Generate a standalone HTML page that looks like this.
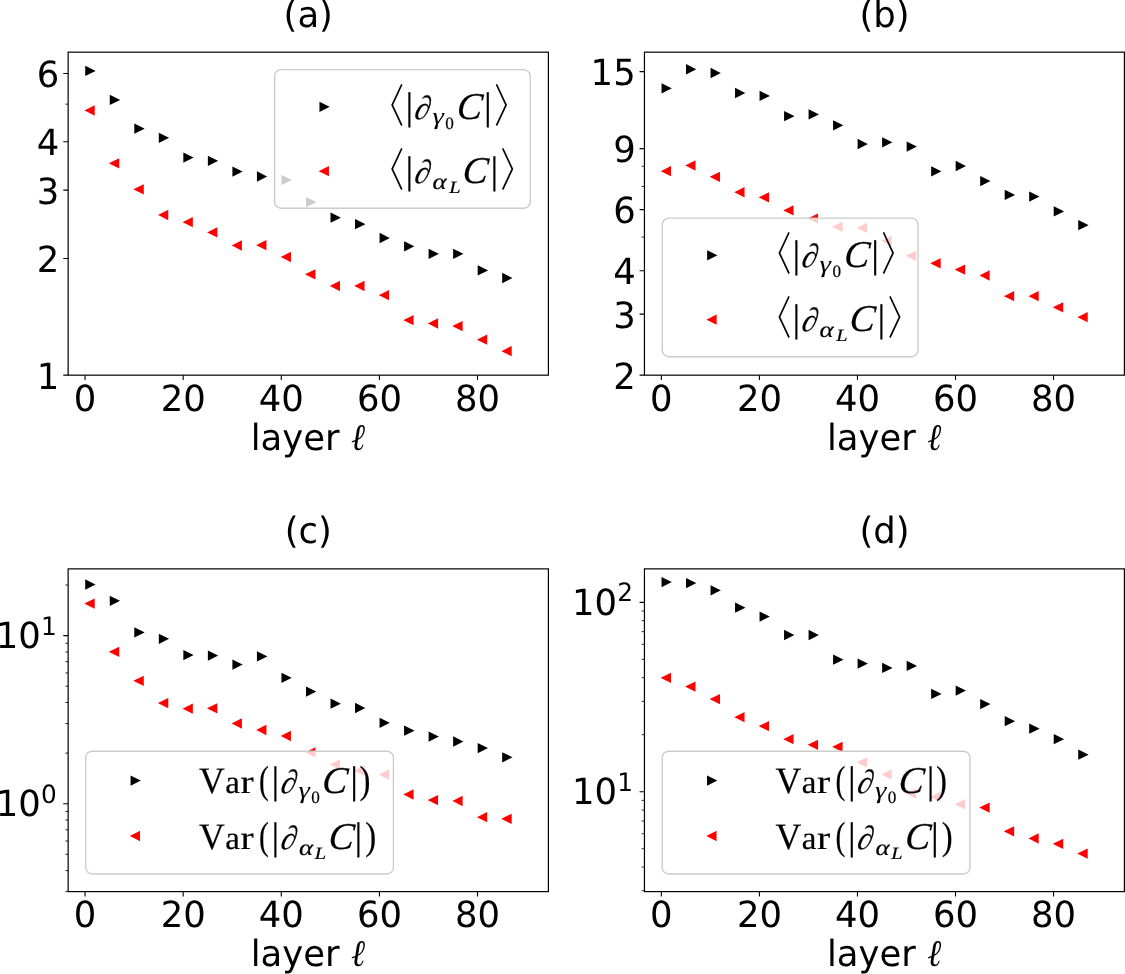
<!DOCTYPE html><html><head><meta charset="utf-8"><title>figure</title><style>html,body{margin:0;padding:0;background:#fff;overflow:hidden}svg{display:block}</style></head><body>
<svg width="1125" height="974" viewBox="0 0 1125 974" text-rendering="geometricPrecision">
<rect width="1125" height="974" fill="#fff"/>
<g fill="#000" stroke="#000" stroke-width="1.39" stroke-linejoin="miter">
<polygon points="94.02,70.95 85.92,66.9 85.92,75"/>
<polygon points="118.55,99.95 110.45,95.9 110.45,104"/>
<polygon points="143.08,128.65 134.98,124.6 134.98,132.7"/>
<polygon points="167.6,137.85 159.5,133.8 159.5,141.9"/>
<polygon points="192.13,157.55 184.03,153.5 184.03,161.6"/>
<polygon points="216.66,160.85 208.56,156.8 208.56,164.9"/>
<polygon points="241.19,171.6 233.09,167.55 233.09,175.65"/>
<polygon points="265.72,176.5 257.62,172.45 257.62,180.55"/>
<polygon points="290.24,180.1 282.14,176.05 282.14,184.15"/>
<polygon points="314.77,202.2 306.67,198.15 306.67,206.25"/>
<polygon points="339.3,217.7 331.2,213.65 331.2,221.75"/>
<polygon points="363.83,224.2 355.73,220.15 355.73,228.25"/>
<polygon points="388.36,238 380.26,233.95 380.26,242.05"/>
<polygon points="412.89,246.3 404.79,242.25 404.79,250.35"/>
<polygon points="437.41,253.8 429.31,249.75 429.31,257.85"/>
<polygon points="461.94,253.8 453.84,249.75 453.84,257.85"/>
<polygon points="486.47,270.4 478.37,266.35 478.37,274.45"/>
<polygon points="511,278 502.9,273.95 502.9,282.05"/>
</g>
<g fill="#f00" stroke="#f00" stroke-width="1.39" stroke-linejoin="miter">
<polygon points="85.92,110.5 94.02,114.55 94.02,106.45"/>
<polygon points="110.45,163.35 118.55,167.4 118.55,159.3"/>
<polygon points="134.98,189.35 143.08,193.4 143.08,185.3"/>
<polygon points="159.5,215 167.6,219.05 167.6,210.95"/>
<polygon points="184.03,222.2 192.13,226.25 192.13,218.15"/>
<polygon points="208.56,232.4 216.66,236.45 216.66,228.35"/>
<polygon points="233.09,245.5 241.19,249.55 241.19,241.45"/>
<polygon points="257.62,245.2 265.72,249.25 265.72,241.15"/>
<polygon points="282.14,257 290.24,261.05 290.24,252.95"/>
<polygon points="306.67,274.3 314.77,278.35 314.77,270.25"/>
<polygon points="331.2,286 339.3,290.05 339.3,281.95"/>
<polygon points="355.73,286 363.83,290.05 363.83,281.95"/>
<polygon points="380.26,295.2 388.36,299.25 388.36,291.15"/>
<polygon points="404.79,320.2 412.89,324.25 412.89,316.15"/>
<polygon points="429.31,323.5 437.41,327.55 437.41,319.45"/>
<polygon points="453.84,326.1 461.94,330.15 461.94,322.05"/>
<polygon points="478.37,339.7 486.47,343.75 486.47,335.65"/>
<polygon points="502.9,351.2 511,355.25 511,347.15"/>
</g>
<rect x="68.14" y="52.17" width="480.26" height="323" fill="none" stroke="#000" stroke-width="1.2" stroke-linejoin="miter"/>
<path d="M85.06 375.17v4.86M183.18 375.17v4.86M281.29 375.17v4.86M379.4 375.17v4.86M477.51 375.17v4.86M68.14 375.17h-4.86M68.14 258.45h-4.86M68.14 190.17h-4.86M68.14 141.72h-4.86M68.14 73.44h-4.86" stroke="#000" stroke-width="1.11" fill="none"/>
<path d="M68.14 104.15h-2.78" stroke="#000" stroke-width="0.83" fill="none"/>
<text transform="translate(85.06 410.6) scale(0.98 1)" font-family="'DejaVu Sans', sans-serif" font-size="36.11" text-anchor="middle">0</text>
<text transform="translate(183.18 410.6) scale(0.98 1)" font-family="'DejaVu Sans', sans-serif" font-size="36.11" text-anchor="middle">20</text>
<text transform="translate(281.29 410.6) scale(0.98 1)" font-family="'DejaVu Sans', sans-serif" font-size="36.11" text-anchor="middle">40</text>
<text transform="translate(379.4 410.6) scale(0.98 1)" font-family="'DejaVu Sans', sans-serif" font-size="36.11" text-anchor="middle">60</text>
<text transform="translate(477.51 410.6) scale(0.98 1)" font-family="'DejaVu Sans', sans-serif" font-size="36.11" text-anchor="middle">80</text>
<text transform="translate(59.34 388.67) scale(0.98 1)" font-family="'DejaVu Sans', sans-serif" font-size="36.11" text-anchor="end">1</text>
<text transform="translate(59.34 271.95) scale(0.98 1)" font-family="'DejaVu Sans', sans-serif" font-size="36.11" text-anchor="end">2</text>
<text transform="translate(59.34 203.67) scale(0.98 1)" font-family="'DejaVu Sans', sans-serif" font-size="36.11" text-anchor="end">3</text>
<text transform="translate(59.34 155.22) scale(0.98 1)" font-family="'DejaVu Sans', sans-serif" font-size="36.11" text-anchor="end">4</text>
<text transform="translate(59.34 86.94) scale(0.98 1)" font-family="'DejaVu Sans', sans-serif" font-size="36.11" text-anchor="end">6</text>
<text transform="translate(308.27 26.95) scale(0.98 1)" font-family="'DejaVu Sans', sans-serif" font-size="36.11" text-anchor="middle">(a)</text>
<text transform="translate(250.77 449.8) scale(0.98 1)" font-family="'DejaVu Sans', sans-serif" font-size="36.11">layer</text>
<text transform="translate(350.98 450) scale(0.9 1)" font-family="'Liberation Serif', serif" font-style="italic" font-size="37.5">ℓ</text>
<g fill="#000" stroke="#000" stroke-width="1.39" stroke-linejoin="miter">
<polygon points="670.32,88.3 662.22,84.25 662.22,92.35"/>
<polygon points="694.83,69.25 686.73,65.2 686.73,73.3"/>
<polygon points="719.34,73 711.24,68.95 711.24,77.05"/>
<polygon points="743.85,93 735.75,88.95 735.75,97.05"/>
<polygon points="768.36,95.9 760.26,91.85 760.26,99.95"/>
<polygon points="792.88,116.2 784.78,112.15 784.78,120.25"/>
<polygon points="817.39,114.4 809.29,110.35 809.29,118.45"/>
<polygon points="841.9,125.3 833.8,121.25 833.8,129.35"/>
<polygon points="866.41,144 858.31,139.95 858.31,148.05"/>
<polygon points="890.93,142.3 882.83,138.25 882.83,146.35"/>
<polygon points="915.44,146.6 907.34,142.55 907.34,150.65"/>
<polygon points="939.95,171.3 931.85,167.25 931.85,175.35"/>
<polygon points="964.46,166 956.36,161.95 956.36,170.05"/>
<polygon points="988.98,181.1 980.88,177.05 980.88,185.15"/>
<polygon points="1013.49,194.9 1005.39,190.85 1005.39,198.95"/>
<polygon points="1038,196.6 1029.9,192.55 1029.9,200.65"/>
<polygon points="1062.51,211.4 1054.41,207.35 1054.41,215.45"/>
<polygon points="1087.02,225.2 1078.92,221.15 1078.92,229.25"/>
</g>
<g fill="#f00" stroke="#f00" stroke-width="1.39" stroke-linejoin="miter">
<polygon points="662.22,171.15 670.32,175.2 670.32,167.1"/>
<polygon points="686.73,165.5 694.83,169.55 694.83,161.45"/>
<polygon points="711.24,176.85 719.34,180.9 719.34,172.8"/>
<polygon points="735.75,192.25 743.85,196.3 743.85,188.2"/>
<polygon points="760.26,197.3 768.36,201.35 768.36,193.25"/>
<polygon points="784.78,210.4 792.88,214.45 792.88,206.35"/>
<polygon points="809.29,218.6 817.39,222.65 817.39,214.55"/>
<polygon points="833.8,226.8 841.9,230.85 841.9,222.75"/>
<polygon points="858.31,227.8 866.41,231.85 866.41,223.75"/>
<polygon points="882.83,241 890.93,245.05 890.93,236.95"/>
<polygon points="907.34,255.8 915.44,259.85 915.44,251.75"/>
<polygon points="931.85,263.3 939.95,267.35 939.95,259.25"/>
<polygon points="956.36,269.6 964.46,273.65 964.46,265.55"/>
<polygon points="980.88,275.5 988.98,279.55 988.98,271.45"/>
<polygon points="1005.39,296.2 1013.49,300.25 1013.49,292.15"/>
<polygon points="1029.9,296.2 1038,300.25 1038,292.15"/>
<polygon points="1054.41,307.3 1062.51,311.35 1062.51,303.25"/>
<polygon points="1078.92,317.2 1087.02,321.25 1087.02,313.15"/>
</g>
<rect x="644.45" y="52.17" width="479.95" height="323" fill="none" stroke="#000" stroke-width="1.2" stroke-linejoin="miter"/>
<path d="M661.36 375.17v4.86M759.41 375.17v4.86M857.46 375.17v4.86M955.51 375.17v4.86M1053.56 375.17v4.86M644.45 375.17h-4.86M644.45 314.09h-4.86M644.45 270.75h-4.86M644.45 209.67h-4.86M644.45 148.59h-4.86M644.45 71.64h-4.86" stroke="#000" stroke-width="1.11" fill="none"/>
<path d="M644.45 237.14h-2.78M644.45 186.45h-2.78M644.45 166.34h-2.78" stroke="#000" stroke-width="0.83" fill="none"/>
<text transform="translate(661.36 410.6) scale(0.98 1)" font-family="'DejaVu Sans', sans-serif" font-size="36.11" text-anchor="middle">0</text>
<text transform="translate(759.41 410.6) scale(0.98 1)" font-family="'DejaVu Sans', sans-serif" font-size="36.11" text-anchor="middle">20</text>
<text transform="translate(857.46 410.6) scale(0.98 1)" font-family="'DejaVu Sans', sans-serif" font-size="36.11" text-anchor="middle">40</text>
<text transform="translate(955.51 410.6) scale(0.98 1)" font-family="'DejaVu Sans', sans-serif" font-size="36.11" text-anchor="middle">60</text>
<text transform="translate(1053.56 410.6) scale(0.98 1)" font-family="'DejaVu Sans', sans-serif" font-size="36.11" text-anchor="middle">80</text>
<text transform="translate(635.65 388.67) scale(0.98 1)" font-family="'DejaVu Sans', sans-serif" font-size="36.11" text-anchor="end">2</text>
<text transform="translate(635.65 327.59) scale(0.98 1)" font-family="'DejaVu Sans', sans-serif" font-size="36.11" text-anchor="end">3</text>
<text transform="translate(635.65 284.25) scale(0.98 1)" font-family="'DejaVu Sans', sans-serif" font-size="36.11" text-anchor="end">4</text>
<text transform="translate(635.65 223.17) scale(0.98 1)" font-family="'DejaVu Sans', sans-serif" font-size="36.11" text-anchor="end">6</text>
<text transform="translate(635.65 162.09) scale(0.98 1)" font-family="'DejaVu Sans', sans-serif" font-size="36.11" text-anchor="end">9</text>
<text transform="translate(635.65 85.14) scale(0.98 1)" font-family="'DejaVu Sans', sans-serif" font-size="36.11" text-anchor="end">15</text>
<text transform="translate(884.43 26.95) scale(0.98 1)" font-family="'DejaVu Sans', sans-serif" font-size="36.11" text-anchor="middle">(b)</text>
<text transform="translate(826.92 449.8) scale(0.98 1)" font-family="'DejaVu Sans', sans-serif" font-size="36.11">layer</text>
<text transform="translate(927.13 450) scale(0.9 1)" font-family="'Liberation Serif', serif" font-style="italic" font-size="37.5">ℓ</text>
<g fill="#000" stroke="#000" stroke-width="1.39" stroke-linejoin="miter">
<polygon points="94.02,584.5 85.92,580.45 85.92,588.55"/>
<polygon points="118.55,600.8 110.45,596.75 110.45,604.85"/>
<polygon points="143.08,632.4 134.98,628.35 134.98,636.45"/>
<polygon points="167.6,638.8 159.5,634.75 159.5,642.85"/>
<polygon points="192.13,655.1 184.03,651.05 184.03,659.15"/>
<polygon points="216.66,655.6 208.56,651.55 208.56,659.65"/>
<polygon points="241.19,664.6 233.09,660.55 233.09,668.65"/>
<polygon points="265.72,656.4 257.62,652.35 257.62,660.45"/>
<polygon points="290.24,677.8 282.14,673.75 282.14,681.85"/>
<polygon points="314.77,691.6 306.67,687.55 306.67,695.65"/>
<polygon points="339.3,703.7 331.2,699.65 331.2,707.75"/>
<polygon points="363.83,708 355.73,703.95 355.73,712.05"/>
<polygon points="388.36,722.8 380.26,718.75 380.26,726.85"/>
<polygon points="412.89,730.7 404.79,726.65 404.79,734.75"/>
<polygon points="437.41,736.6 429.31,732.55 429.31,740.65"/>
<polygon points="461.94,741.5 453.84,737.45 453.84,745.55"/>
<polygon points="486.47,748.1 478.37,744.05 478.37,752.15"/>
<polygon points="511,757.3 502.9,753.25 502.9,761.35"/>
</g>
<g fill="#f00" stroke="#f00" stroke-width="1.39" stroke-linejoin="miter">
<polygon points="85.92,603.6 94.02,607.65 94.02,599.55"/>
<polygon points="110.45,651.8 118.55,655.85 118.55,647.75"/>
<polygon points="134.98,680.8 143.08,684.85 143.08,676.75"/>
<polygon points="159.5,703.05 167.6,707.1 167.6,699"/>
<polygon points="184.03,708.7 192.13,712.75 192.13,704.65"/>
<polygon points="208.56,708.3 216.66,712.35 216.66,704.25"/>
<polygon points="233.09,723.5 241.19,727.55 241.19,719.45"/>
<polygon points="257.62,730 265.72,734.05 265.72,725.95"/>
<polygon points="282.14,736 290.24,740.05 290.24,731.95"/>
<polygon points="306.67,752.4 314.77,756.45 314.77,748.35"/>
<polygon points="331.2,764.6 339.3,768.65 339.3,760.55"/>
<polygon points="355.73,770.5 363.83,774.55 363.83,766.45"/>
<polygon points="380.26,774.7 388.36,778.75 388.36,770.65"/>
<polygon points="404.79,794.5 412.89,798.55 412.89,790.45"/>
<polygon points="429.31,800.1 437.41,804.15 437.41,796.05"/>
<polygon points="453.84,801 461.94,805.05 461.94,796.95"/>
<polygon points="478.37,817.2 486.47,821.25 486.47,813.15"/>
<polygon points="502.9,818.8 511,822.85 511,814.75"/>
</g>
<rect x="68.14" y="568.87" width="480.26" height="322.73" fill="none" stroke="#000" stroke-width="1.2" stroke-linejoin="miter"/>
<path d="M85.06 891.6v4.86M183.18 891.6v4.86M281.29 891.6v4.86M379.4 891.6v4.86M477.51 891.6v4.86M68.14 803.72h-4.86M68.14 635.64h-4.86" stroke="#000" stroke-width="1.11" fill="none"/>
<path d="M68.14 891.6h-2.78M68.14 870.6h-2.78M68.14 854.31h-2.78M68.14 841h-2.78M68.14 829.75h-2.78M68.14 820h-2.78M68.14 811.41h-2.78M68.14 753.12h-2.78M68.14 723.52h-2.78M68.14 702.52h-2.78M68.14 686.23h-2.78M68.14 672.93h-2.78M68.14 661.67h-2.78M68.14 651.93h-2.78M68.14 643.33h-2.78M68.14 585.04h-2.78" stroke="#000" stroke-width="0.83" fill="none"/>
<text transform="translate(85.06 927.03) scale(0.98 1)" font-family="'DejaVu Sans', sans-serif" font-size="36.11" text-anchor="middle">0</text>
<text transform="translate(183.18 927.03) scale(0.98 1)" font-family="'DejaVu Sans', sans-serif" font-size="36.11" text-anchor="middle">20</text>
<text transform="translate(281.29 927.03) scale(0.98 1)" font-family="'DejaVu Sans', sans-serif" font-size="36.11" text-anchor="middle">40</text>
<text transform="translate(379.4 927.03) scale(0.98 1)" font-family="'DejaVu Sans', sans-serif" font-size="36.11" text-anchor="middle">60</text>
<text transform="translate(477.51 927.03) scale(0.98 1)" font-family="'DejaVu Sans', sans-serif" font-size="36.11" text-anchor="middle">80</text>
<text transform="translate(-4.36 816.32) scale(0.98 1)" font-family="'DejaVu Sans', sans-serif" font-size="36.11">10</text>
<text transform="translate(41.04 802.62) scale(0.98 1)" font-family="'DejaVu Sans', sans-serif" font-size="25.28">0</text>
<text transform="translate(-4.36 648.24) scale(0.98 1)" font-family="'DejaVu Sans', sans-serif" font-size="36.11">10</text>
<text transform="translate(41.04 634.54) scale(0.98 1)" font-family="'DejaVu Sans', sans-serif" font-size="25.28">1</text>
<text transform="translate(308.27 543.38) scale(0.98 1)" font-family="'DejaVu Sans', sans-serif" font-size="36.11" text-anchor="middle">(c)</text>
<text transform="translate(250.77 966.23) scale(0.98 1)" font-family="'DejaVu Sans', sans-serif" font-size="36.11">layer</text>
<text transform="translate(350.98 966.43) scale(0.9 1)" font-family="'Liberation Serif', serif" font-style="italic" font-size="37.5">ℓ</text>
<g fill="#000" stroke="#000" stroke-width="1.39" stroke-linejoin="miter">
<polygon points="670.32,582.1 662.22,578.05 662.22,586.15"/>
<polygon points="694.83,583.1 686.73,579.05 686.73,587.15"/>
<polygon points="719.34,590.3 711.24,586.25 711.24,594.35"/>
<polygon points="743.85,607.7 735.75,603.65 735.75,611.75"/>
<polygon points="768.36,616.6 760.26,612.55 760.26,620.65"/>
<polygon points="792.88,635 784.78,630.95 784.78,639.05"/>
<polygon points="817.39,635 809.29,630.95 809.29,639.05"/>
<polygon points="841.9,659.7 833.8,655.65 833.8,663.75"/>
<polygon points="866.41,663.6 858.31,659.55 858.31,667.65"/>
<polygon points="890.93,667.9 882.83,663.85 882.83,671.95"/>
<polygon points="915.44,665.9 907.34,661.85 907.34,669.95"/>
<polygon points="939.95,693.9 931.85,689.85 931.85,697.95"/>
<polygon points="964.46,690.6 956.36,686.55 956.36,694.65"/>
<polygon points="988.98,704.1 980.88,700.05 980.88,708.15"/>
<polygon points="1013.49,721.2 1005.39,717.15 1005.39,725.25"/>
<polygon points="1038,728.7 1029.9,724.65 1029.9,732.75"/>
<polygon points="1062.51,739.2 1054.41,735.15 1054.41,743.25"/>
<polygon points="1087.02,754.7 1078.92,750.65 1078.92,758.75"/>
</g>
<g fill="#f00" stroke="#f00" stroke-width="1.39" stroke-linejoin="miter">
<polygon points="662.22,677.8 670.32,681.85 670.32,673.75"/>
<polygon points="686.73,686.6 694.83,690.65 694.83,682.55"/>
<polygon points="711.24,699.1 719.34,703.15 719.34,695.05"/>
<polygon points="735.75,717.2 743.85,721.25 743.85,713.15"/>
<polygon points="760.26,726.1 768.36,730.15 768.36,722.05"/>
<polygon points="784.78,739.2 792.88,743.25 792.88,735.15"/>
<polygon points="809.29,744.8 817.39,748.85 817.39,740.75"/>
<polygon points="833.8,746.8 841.9,750.85 841.9,742.75"/>
<polygon points="858.31,762.3 866.41,766.35 866.41,758.25"/>
<polygon points="882.83,774.4 890.93,778.45 890.93,770.35"/>
<polygon points="907.34,793.5 915.44,797.55 915.44,789.45"/>
<polygon points="931.85,796.8 939.95,800.85 939.95,792.75"/>
<polygon points="956.36,804.3 964.46,808.35 964.46,800.25"/>
<polygon points="980.88,807.6 988.98,811.65 988.98,803.55"/>
<polygon points="1005.39,831.3 1013.49,835.35 1013.49,827.25"/>
<polygon points="1029.9,838.5 1038,842.55 1038,834.45"/>
<polygon points="1054.41,843.8 1062.51,847.85 1062.51,839.75"/>
<polygon points="1078.92,853.6 1087.02,857.65 1087.02,849.55"/>
</g>
<rect x="644.45" y="568.87" width="479.95" height="322.73" fill="none" stroke="#000" stroke-width="1.2" stroke-linejoin="miter"/>
<path d="M661.36 891.6v4.86M759.41 891.6v4.86M857.46 891.6v4.86M955.51 891.6v4.86M1053.56 891.6v4.86M644.45 791.72h-4.86M644.45 602.33h-4.86" stroke="#000" stroke-width="1.11" fill="none"/>
<path d="M644.45 890.75h-2.78M644.45 867.08h-2.78M644.45 848.73h-2.78M644.45 833.73h-2.78M644.45 821.05h-2.78M644.45 810.07h-2.78M644.45 800.38h-2.78M644.45 734.71h-2.78M644.45 701.36h-2.78M644.45 677.69h-2.78M644.45 659.34h-2.78M644.45 644.35h-2.78M644.45 631.67h-2.78M644.45 620.68h-2.78M644.45 611h-2.78" stroke="#000" stroke-width="0.83" fill="none"/>
<text transform="translate(661.36 927.03) scale(0.98 1)" font-family="'DejaVu Sans', sans-serif" font-size="36.11" text-anchor="middle">0</text>
<text transform="translate(759.41 927.03) scale(0.98 1)" font-family="'DejaVu Sans', sans-serif" font-size="36.11" text-anchor="middle">20</text>
<text transform="translate(857.46 927.03) scale(0.98 1)" font-family="'DejaVu Sans', sans-serif" font-size="36.11" text-anchor="middle">40</text>
<text transform="translate(955.51 927.03) scale(0.98 1)" font-family="'DejaVu Sans', sans-serif" font-size="36.11" text-anchor="middle">60</text>
<text transform="translate(1053.56 927.03) scale(0.98 1)" font-family="'DejaVu Sans', sans-serif" font-size="36.11" text-anchor="middle">80</text>
<text transform="translate(571.95 804.32) scale(0.98 1)" font-family="'DejaVu Sans', sans-serif" font-size="36.11">10</text>
<text transform="translate(617.35 790.62) scale(0.98 1)" font-family="'DejaVu Sans', sans-serif" font-size="25.28">1</text>
<text transform="translate(571.95 614.93) scale(0.98 1)" font-family="'DejaVu Sans', sans-serif" font-size="36.11">10</text>
<text transform="translate(617.35 601.23) scale(0.98 1)" font-family="'DejaVu Sans', sans-serif" font-size="25.28">2</text>
<text transform="translate(884.43 543.38) scale(0.98 1)" font-family="'DejaVu Sans', sans-serif" font-size="36.11" text-anchor="middle">(d)</text>
<text transform="translate(826.92 966.23) scale(0.98 1)" font-family="'DejaVu Sans', sans-serif" font-size="36.11">layer</text>
<text transform="translate(927.13 966.43) scale(0.9 1)" font-family="'Liberation Serif', serif" font-style="italic" font-size="37.5">ℓ</text>
<rect x="274.6" y="69.6" width="255.7" height="138.6" rx="6.5" ry="6.5" fill="#fff" fill-opacity="0.8" stroke="#ccc" stroke-width="1.39"/>
<g fill="#000" stroke="#000" stroke-width="1.39"><polygon points="328.25,106.8 320.15,102.75 320.15,110.85"/></g>
<g fill="#f00" stroke="#f00" stroke-width="1.39"><polygon points="320.15,171.2 328.25,175.25 328.25,167.15"/></g>
<g fill="#000" stroke="#000" stroke-width="0.2">
<text x="361.33" y="121.7" font-family="'WenQuanYi Zen Hei', 'Noto Sans CJK JP', sans-serif" font-size="47.5" stroke-width="0">〈</text>
<text x="405.5" y="118.8" font-family="'Liberation Serif', serif" font-size="38.5">|</text>
<text transform="translate(413.33 118.8) skewX(-13) scale(0.93 1)" font-family="'Liberation Serif', serif" font-style="italic" font-size="33">∂</text>
<text transform="translate(432.48 123.7) scale(1.2 1)" font-family="'Liberation Serif', serif" font-style="italic" font-size="24.1" stroke-width="0">γ</text>
<text x="445.34" y="128.6" font-family="'Liberation Serif', serif" font-size="17.2">0</text>
<text transform="translate(456.07 118.8) skewX(-6) scale(1 1)" font-family="'Liberation Serif', serif" font-style="italic" font-size="37.9">C</text>
<text x="484.1" y="118.8" font-family="'Liberation Serif', serif" font-size="38.5">|</text>
<text x="489.48" y="121.7" font-family="'WenQuanYi Zen Hei', 'Noto Sans CJK JP', sans-serif" font-size="47.5" stroke-width="0">〉</text>
<text x="361.33" y="185.8" font-family="'WenQuanYi Zen Hei', 'Noto Sans CJK JP', sans-serif" font-size="47.5" stroke-width="0">〈</text>
<text x="405.5" y="182.9" font-family="'Liberation Serif', serif" font-size="38.5">|</text>
<text transform="translate(413.33 182.9) skewX(-13) scale(0.93 1)" font-family="'Liberation Serif', serif" font-style="italic" font-size="33">∂</text>
<text transform="translate(432.4 188.6) scale(1.2 1)" font-family="'Liberation Serif', serif" font-style="italic" font-size="22.4">α</text>
<text transform="translate(449.24 192.6) scale(1.19 1)" font-family="'Liberation Serif', serif" font-style="italic" font-size="17.1">L</text>
<text transform="translate(461.77 182.9) skewX(-6) scale(1 1)" font-family="'Liberation Serif', serif" font-style="italic" font-size="37.9">C</text>
<text x="490.4" y="182.9" font-family="'Liberation Serif', serif" font-size="38.5">|</text>
<text x="495.78" y="185.8" font-family="'WenQuanYi Zen Hei', 'Noto Sans CJK JP', sans-serif" font-size="47.5" stroke-width="0">〉</text>
</g>
<rect x="662.3" y="218.1" width="255.7" height="138.6" rx="6.5" ry="6.5" fill="#fff" fill-opacity="0.8" stroke="#ccc" stroke-width="1.39"/>
<g fill="#000" stroke="#000" stroke-width="1.39"><polygon points="715.95,255.3 707.85,251.25 707.85,259.35"/></g>
<g fill="#f00" stroke="#f00" stroke-width="1.39"><polygon points="707.85,319.7 715.95,323.75 715.95,315.65"/></g>
<g fill="#000" stroke="#000" stroke-width="0.2">
<text x="748.43" y="270.2" font-family="'WenQuanYi Zen Hei', 'Noto Sans CJK JP', sans-serif" font-size="47.5" stroke-width="0">〈</text>
<text x="792.6" y="267.3" font-family="'Liberation Serif', serif" font-size="38.5">|</text>
<text transform="translate(800.43 267.3) skewX(-13) scale(0.93 1)" font-family="'Liberation Serif', serif" font-style="italic" font-size="33">∂</text>
<text transform="translate(819.58 272.2) scale(1.2 1)" font-family="'Liberation Serif', serif" font-style="italic" font-size="24.1" stroke-width="0">γ</text>
<text x="832.44" y="277.1" font-family="'Liberation Serif', serif" font-size="17.2">0</text>
<text transform="translate(843.17 267.3) skewX(-6) scale(1 1)" font-family="'Liberation Serif', serif" font-style="italic" font-size="37.9">C</text>
<text x="871.2" y="267.3" font-family="'Liberation Serif', serif" font-size="38.5">|</text>
<text x="876.58" y="270.2" font-family="'WenQuanYi Zen Hei', 'Noto Sans CJK JP', sans-serif" font-size="47.5" stroke-width="0">〉</text>
<text x="748.43" y="334.3" font-family="'WenQuanYi Zen Hei', 'Noto Sans CJK JP', sans-serif" font-size="47.5" stroke-width="0">〈</text>
<text x="792.6" y="331.4" font-family="'Liberation Serif', serif" font-size="38.5">|</text>
<text transform="translate(800.43 331.4) skewX(-13) scale(0.93 1)" font-family="'Liberation Serif', serif" font-style="italic" font-size="33">∂</text>
<text transform="translate(819.5 337.1) scale(1.2 1)" font-family="'Liberation Serif', serif" font-style="italic" font-size="22.4">α</text>
<text transform="translate(836.34 341.1) scale(1.19 1)" font-family="'Liberation Serif', serif" font-style="italic" font-size="17.1">L</text>
<text transform="translate(848.87 331.4) skewX(-6) scale(1 1)" font-family="'Liberation Serif', serif" font-style="italic" font-size="37.9">C</text>
<text x="877.5" y="331.4" font-family="'Liberation Serif', serif" font-size="38.5">|</text>
<text x="882.88" y="334.3" font-family="'WenQuanYi Zen Hei', 'Noto Sans CJK JP', sans-serif" font-size="47.5" stroke-width="0">〉</text>
</g>
<rect x="85.7" y="751.2" width="307.7" height="122.8" rx="6.5" ry="6.5" fill="#fff" fill-opacity="0.8" stroke="#ccc" stroke-width="1.39"/>
<g fill="#000" stroke="#000" stroke-width="1.39"><polygon points="139.35,780.6 131.25,776.55 131.25,784.65"/></g>
<g fill="#f00" stroke="#f00" stroke-width="1.39"><polygon points="131.25,836 139.35,840.05 139.35,831.95"/></g>
<g fill="#000" stroke="#000" stroke-width="0.2">
<text transform="translate(199 793.4) scale(0.96 1)" font-family="'Liberation Serif', serif" font-size="37.2">V</text>
<text x="225.34" y="793.4" font-family="'Liberation Serif', serif" font-size="33">a</text>
<text transform="translate(240.51 793.4) scale(1.2 1)" font-family="'Liberation Serif', serif" font-size="33">r</text>
<text transform="translate(258.99 793.4) scale(0.76 1)" font-family="'Liberation Serif', serif" font-size="39.1">(</text>
<text x="271.4" y="793.4" font-family="'Liberation Serif', serif" font-size="38.5">|</text>
<text transform="translate(279.43 793.4) skewX(-13) scale(0.93 1)" font-family="'Liberation Serif', serif" font-style="italic" font-size="33">∂</text>
<text transform="translate(298.38 798.3) scale(1.2 1)" font-family="'Liberation Serif', serif" font-style="italic" font-size="24.1" stroke-width="0">γ</text>
<text x="311.34" y="803.2" font-family="'Liberation Serif', serif" font-size="17.2">0</text>
<text transform="translate(321.27 793.4) skewX(-6) scale(1 1)" font-family="'Liberation Serif', serif" font-style="italic" font-size="37.9">C</text>
<text x="350.3" y="793.4" font-family="'Liberation Serif', serif" font-size="38.5">|</text>
<text transform="translate(359.54 793.4) scale(0.84 1)" font-family="'Liberation Serif', serif" font-size="39.1">)</text>
<text transform="translate(199 849.2) scale(0.96 1)" font-family="'Liberation Serif', serif" font-size="37.2">V</text>
<text x="225.34" y="849.2" font-family="'Liberation Serif', serif" font-size="33">a</text>
<text transform="translate(240.51 849.2) scale(1.2 1)" font-family="'Liberation Serif', serif" font-size="33">r</text>
<text transform="translate(258.99 849.2) scale(0.76 1)" font-family="'Liberation Serif', serif" font-size="39.1">(</text>
<text x="271.4" y="849.2" font-family="'Liberation Serif', serif" font-size="38.5">|</text>
<text transform="translate(279.43 849.2) skewX(-13) scale(0.93 1)" font-family="'Liberation Serif', serif" font-style="italic" font-size="33">∂</text>
<text transform="translate(298.9 854.9) scale(1.2 1)" font-family="'Liberation Serif', serif" font-style="italic" font-size="22.4">α</text>
<text transform="translate(314.74 858.9) scale(1.19 1)" font-family="'Liberation Serif', serif" font-style="italic" font-size="17.1">L</text>
<text transform="translate(327.87 849.2) skewX(-6) scale(1 1)" font-family="'Liberation Serif', serif" font-style="italic" font-size="37.9">C</text>
<text x="354.4" y="849.2" font-family="'Liberation Serif', serif" font-size="38.5">|</text>
<text transform="translate(365.24 849.2) scale(0.84 1)" font-family="'Liberation Serif', serif" font-size="39.1">)</text>
</g>
<rect x="662.2" y="751.2" width="307.7" height="122.8" rx="6.5" ry="6.5" fill="#fff" fill-opacity="0.8" stroke="#ccc" stroke-width="1.39"/>
<g fill="#000" stroke="#000" stroke-width="1.39"><polygon points="715.85,780.6 707.75,776.55 707.75,784.65"/></g>
<g fill="#f00" stroke="#f00" stroke-width="1.39"><polygon points="707.75,836 715.85,840.05 715.85,831.95"/></g>
<g fill="#000" stroke="#000" stroke-width="0.2">
<text transform="translate(775.5 793.4) scale(0.96 1)" font-family="'Liberation Serif', serif" font-size="37.2">V</text>
<text x="801.84" y="793.4" font-family="'Liberation Serif', serif" font-size="33">a</text>
<text transform="translate(817.01 793.4) scale(1.2 1)" font-family="'Liberation Serif', serif" font-size="33">r</text>
<text transform="translate(835.49 793.4) scale(0.76 1)" font-family="'Liberation Serif', serif" font-size="39.1">(</text>
<text x="847.9" y="793.4" font-family="'Liberation Serif', serif" font-size="38.5">|</text>
<text transform="translate(855.93 793.4) skewX(-13) scale(0.93 1)" font-family="'Liberation Serif', serif" font-style="italic" font-size="33">∂</text>
<text transform="translate(874.88 798.3) scale(1.2 1)" font-family="'Liberation Serif', serif" font-style="italic" font-size="24.1" stroke-width="0">γ</text>
<text x="887.84" y="803.2" font-family="'Liberation Serif', serif" font-size="17.2">0</text>
<text transform="translate(897.77 793.4) skewX(-6) scale(1 1)" font-family="'Liberation Serif', serif" font-style="italic" font-size="37.9">C</text>
<text x="926.8" y="793.4" font-family="'Liberation Serif', serif" font-size="38.5">|</text>
<text transform="translate(936.04 793.4) scale(0.84 1)" font-family="'Liberation Serif', serif" font-size="39.1">)</text>
<text transform="translate(775.5 849.2) scale(0.96 1)" font-family="'Liberation Serif', serif" font-size="37.2">V</text>
<text x="801.84" y="849.2" font-family="'Liberation Serif', serif" font-size="33">a</text>
<text transform="translate(817.01 849.2) scale(1.2 1)" font-family="'Liberation Serif', serif" font-size="33">r</text>
<text transform="translate(835.49 849.2) scale(0.76 1)" font-family="'Liberation Serif', serif" font-size="39.1">(</text>
<text x="847.9" y="849.2" font-family="'Liberation Serif', serif" font-size="38.5">|</text>
<text transform="translate(855.93 849.2) skewX(-13) scale(0.93 1)" font-family="'Liberation Serif', serif" font-style="italic" font-size="33">∂</text>
<text transform="translate(875.4 854.9) scale(1.2 1)" font-family="'Liberation Serif', serif" font-style="italic" font-size="22.4">α</text>
<text transform="translate(891.24 858.9) scale(1.19 1)" font-family="'Liberation Serif', serif" font-style="italic" font-size="17.1">L</text>
<text transform="translate(904.37 849.2) skewX(-6) scale(1 1)" font-family="'Liberation Serif', serif" font-style="italic" font-size="37.9">C</text>
<text x="930.9" y="849.2" font-family="'Liberation Serif', serif" font-size="38.5">|</text>
<text transform="translate(941.74 849.2) scale(0.84 1)" font-family="'Liberation Serif', serif" font-size="39.1">)</text>
</g>
</svg></body></html>
